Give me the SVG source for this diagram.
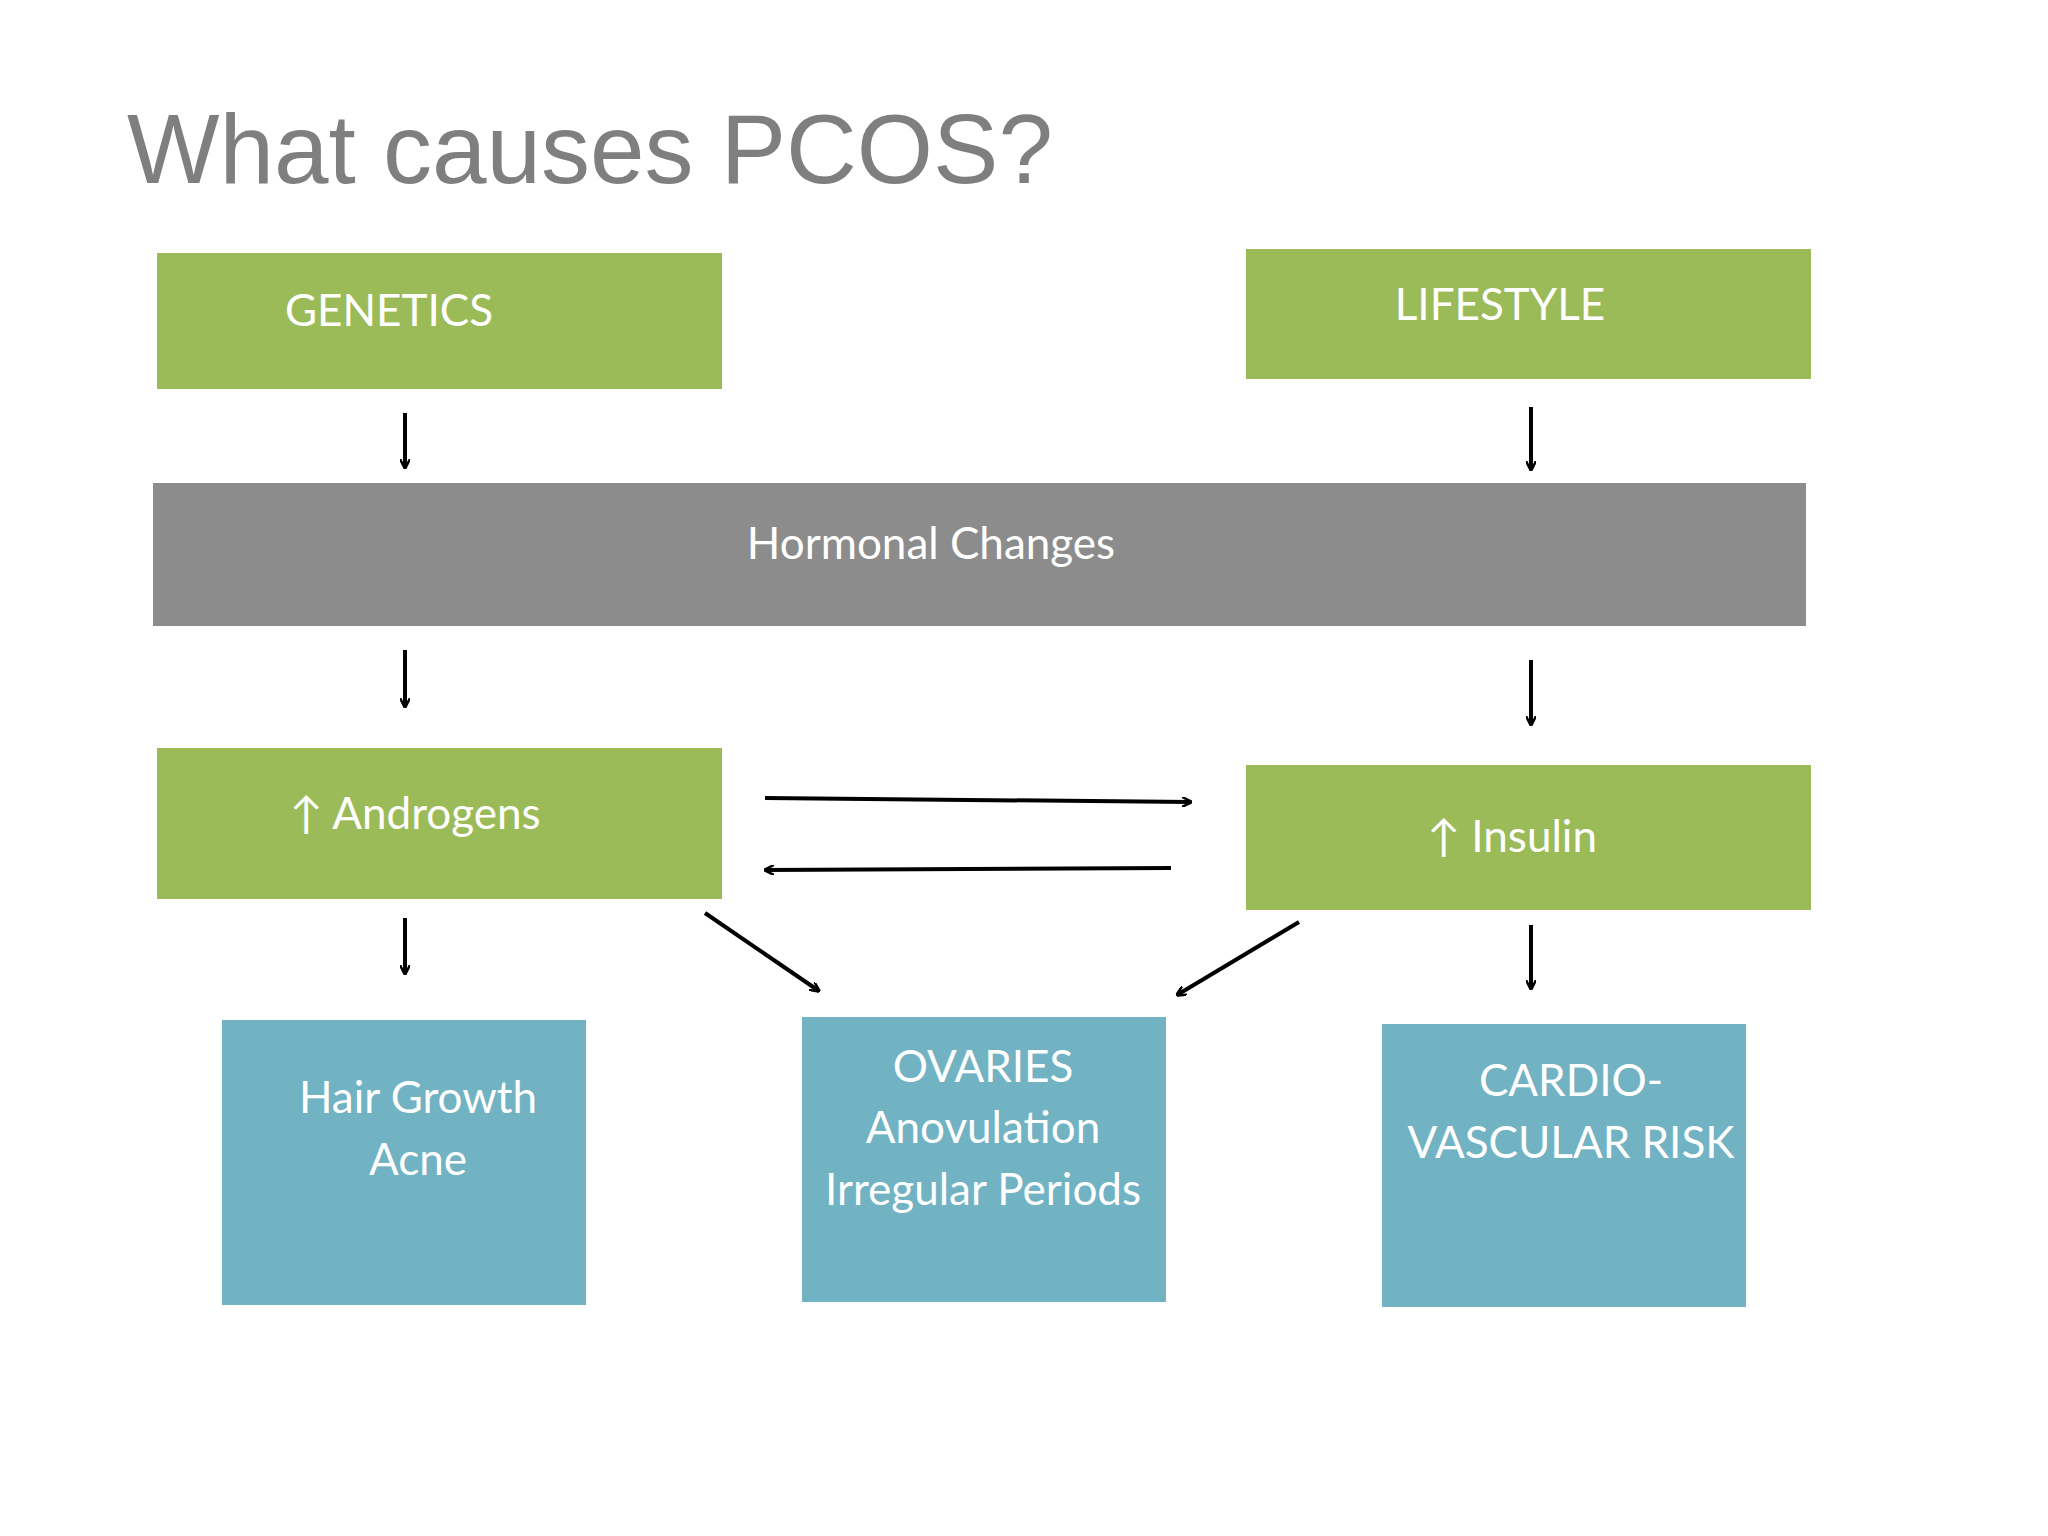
<svg xmlns="http://www.w3.org/2000/svg" width="2048" height="1536" viewBox="0 0 2048 1536">
<defs>
<style>
.g{fill:#9bbb59}.b{fill:#71b2c3}.h{fill:#8c8c8c}
.t{font-family:Lato,"Open Sans",sans-serif;font-size:44px;fill:#fff;text-anchor:middle}
.c line{stroke:#000;stroke-width:4;marker-end:url(#a)}
</style>
<marker id="a" markerWidth="10" markerHeight="10" refX="9" refY="5" orient="auto" markerUnits="userSpaceOnUse" viewBox="0 0 10 10"><path d="M0,0 L10,5 L0,10" fill="none" stroke="#000" stroke-width="2.5"/></marker>
</defs>
<rect width="2048" height="1536" fill="#fff"/>
<text x="127" y="183" font-family="Liberation Sans,Arial,sans-serif" font-size="98" fill="#7f7f7f">What causes PCOS?</text>
<g id="genetics"><rect class="g" x="157" y="253" width="565" height="136"/><text class="t" x="389" y="326">GENETICS</text></g>
<g id="lifestyle"><rect class="g" x="1246" y="249" width="565" height="130"/><text class="t" x="1500" y="320">LIFESTYLE</text></g>
<g id="hormonal"><rect class="h" x="153" y="483" width="1653" height="143"/><text class="t" x="931" y="559">Hormonal Changes</text></g>
<g id="androgens"><rect class="g" x="157" y="748" width="565" height="151"/><text class="t" x="415" y="829">↑ Androgens</text></g>
<g id="insulin"><rect class="g" x="1246" y="765" width="565" height="145"/><text class="t" x="1512" y="852">↑ Insulin</text></g>
<g id="hair"><rect class="b" x="222" y="1020" width="364" height="285"/><text class="t" x="418" y="1113">Hair Growth</text><text class="t" x="418" y="1175">Acne</text></g>
<g id="ovaries"><rect class="b" x="802" y="1017" width="364" height="285"/><text class="t" x="983" y="1082">OVARIES</text><text class="t" x="983" y="1143">Anovulation</text><text class="t" x="983" y="1205">Irregular Periods</text></g>
<g id="cardio"><rect class="b" x="1382" y="1024" width="364" height="283"/><text class="t" x="1571" y="1096">CARDIO-</text><text class="t" x="1571" y="1158">VASCULAR RISK</text></g>
<g class="c" id="connectors">
<line x1="405" y1="413" x2="405" y2="468"/>
<line x1="1531" y1="407" x2="1531" y2="470"/>
<line x1="405" y1="650" x2="405" y2="707"/>
<line x1="1531" y1="660" x2="1531" y2="725"/>
<line x1="405" y1="918" x2="405" y2="974"/>
<line x1="1531" y1="925" x2="1531" y2="989"/>
<line x1="765" y1="798" x2="1191" y2="802"/>
<line x1="1171" y1="868" x2="765" y2="870"/>
<line x1="705" y1="913" x2="819" y2="991"/>
<line x1="1299" y1="922" x2="1177" y2="995"/>
</g>
</svg>
